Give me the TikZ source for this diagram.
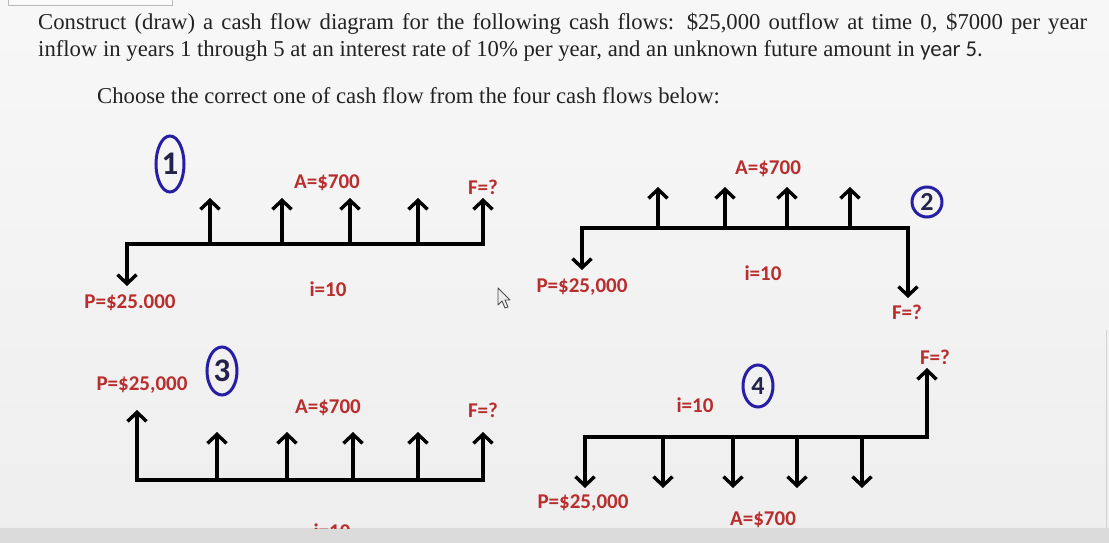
\documentclass[tikz,border=0pt]{standalone}
\usepackage{fontspec}
\setmainfont{Liberation Serif}
\newfontfamily\lab{Carlito}
\usetikzlibrary{arrows.meta,shapes.geometric}
\definecolor{lred}{RGB}{185,45,45}
\definecolor{cblue}{RGB}{38,30,165}
\definecolor{dnum}{RGB}{35,35,75}
\definecolor{txt}{RGB}{35,35,35}
\begin{document}
\begin{tikzpicture}[x=1pt,y=-1pt,
  flow/.style={line width=3.4pt,-{Straight Barb[length=9pt,width=19pt]}},
  biflow/.style={line width=3.4pt,line join=miter,{Straight Barb[length=9pt,width=19pt]}-{Straight Barb[length=9pt,width=19pt]}},
  lbl/.style={font=\lab\bfseries\fontsize{21}{21}\selectfont,text=lred,inner sep=0pt},
  numbox/.style={draw=cblue,line width=3pt,ellipse,inner sep=0pt,text=dnum,font=\lab\bfseries\fontsize{33}{33}\selectfont},
  head/.style={anchor=base west,inner sep=0pt,text=txt,font=\fontsize{22.7}{26}\selectfont}]
\useasboundingbox (0,0) rectangle (1109,543);
\shade[top color=gray!6,bottom color=gray!13] (0,0) rectangle (1109,528);
\fill[gray!28] (0,528) rectangle (1109,543);
\draw[gray!55,line width=1pt,fill=gray!4] (8,-2) rectangle (172,6);
\draw[gray!35,line width=1pt] (1106,330) -- (1106,528);

% header
\node[head] (q1) at (38,30) {\makebox[1049pt][s]{Construct (draw) a cash flow diagram for the following cash flows: \$25,000 outflow at time 0, \$7000 per year}};
\node[head] (q2) at (38,57) {inflow in years 1 through 5 at an interest rate of 10\% per year, and an unknown future amount in {\lab year 5.}};
\node[head] (q3) at (97,103) {Choose the correct one of cash flow from the four cash flows below:};

% ---------- diagram 1
\coordinate (L1) at (127,244); \coordinate (R1) at (483,244);
\coordinate (P1t) at (127,286); \coordinate (F1t) at (483,198);
\draw[biflow] (P1t) -- (L1) -- (R1) -- (F1t);
\foreach \x [count=\k] in {210,282,350,418}{
  \coordinate (a1b\k) at (\x,244); \coordinate (a1t\k) at (\x,198);
  \draw[flow] (a1b\k) -- (a1t\k);}
\node[lbl] (A1) at (327,183) {A=\$700};
\node[lbl] (F1) at (483,187) {F=?};
\node[lbl] (I1) at (328,289) {i=10};
\node[lbl] (P1) at (130,303) {P=\$25.000};
\node[numbox,minimum width=28pt,minimum height=56pt] (C1) at (170,164) {1};

% cursor
\draw[gray!60!black,line width=0.9pt,fill=white!85!gray,line join=round]
  (498,288) -- (498,305) -- (502,301) -- (505,308) -- (508,307) -- (505,300) -- (510,300) -- cycle;

% ---------- diagram 2
\coordinate (L2) at (582,228); \coordinate (R2) at (908,228);
\coordinate (P2t) at (582,270); \coordinate (F2t) at (908,298);
\draw[biflow] (P2t) -- (L2) -- (R2) -- (F2t);
\foreach \x [count=\k] in {658,725,787,850}{
  \coordinate (a2b\k) at (\x,228); \coordinate (a2t\k) at (\x,187);
  \draw[flow] (a2b\k) -- (a2t\k);}
\node[lbl] (A2) at (768,169) {A=\$700};
\node[lbl] (I2) at (763,273) {i=10};
\node[lbl] (P2) at (582,287) {P=\$25,000};
\node[lbl] (F2) at (907,312) {F=?};
\node[numbox,circle,minimum size=30pt,font=\lab\bfseries\fontsize{26}{26}\selectfont] (C2) at (927,202) {2};

% ---------- diagram 3
\coordinate (L3) at (137,480); \coordinate (R3) at (483,480);
\coordinate (P3t) at (137,410); \coordinate (F3t) at (483,432);
\draw[biflow] (P3t) -- (L3) -- (R3) -- (F3t);
\foreach \x [count=\k] in {217,287,353,418}{
  \coordinate (a3b\k) at (\x,480); \coordinate (a3t\k) at (\x,432);
  \draw[flow] (a3b\k) -- (a3t\k);}
\node[lbl] (P3) at (142,385) {P=\$25,000};
\node[lbl] (A3) at (328,408) {A=\$700};
\node[lbl] (F3) at (483,410) {F=?};
\node[numbox,minimum width=30pt,minimum height=48pt] (C3) at (222,371) {3};
\begin{scope}
  \clip (0,0) rectangle (1109,528);
  \node[lbl] (I3) at (332,531) {i=10};
\end{scope}

% ---------- diagram 4
\coordinate (L4) at (585,437); \coordinate (R4) at (927,437);
\coordinate (P4t) at (585,488); \coordinate (F4t) at (927,368);
\draw[biflow] (P4t) -- (L4) -- (R4) -- (F4t);
\foreach \x [count=\k] in {663,733,797,862}{
  \coordinate (a4b\k) at (\x,437); \coordinate (a4t\k) at (\x,488);
  \draw[flow] (a4b\k) -- (a4t\k);}
\node[lbl] (F4) at (935,357) {F=?};
\node[lbl] (I4) at (695,405) {i=10};
\node[lbl] (P4) at (583,503) {P=\$25,000};
\node[lbl] (A4) at (763,520) {A=\$700};
\node[numbox,minimum width=30pt,minimum height=42pt,font=\lab\bfseries\fontsize{26}{26}\selectfont] (C4) at (758,386) {4};
\end{tikzpicture}
\end{document}
